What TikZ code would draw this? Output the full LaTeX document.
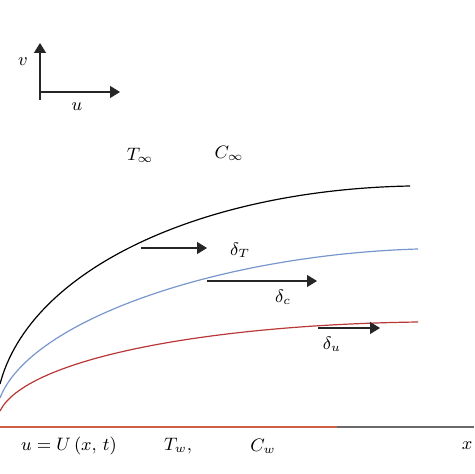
\documentclass[tikz,border=0pt]{standalone}
\usepackage{amsmath}
\usepackage{xcolor}
\usepackage{tikz}
\usetikzlibrary{arrows.meta, positioning}
\definecolor{curveblue}{RGB}{120,150,205}
\definecolor{curvered}{RGB}{185,55,55}
\definecolor{wallred}{RGB}{205,95,70}
\definecolor{wallgray}{RGB}{105,105,105}
\tikzstyle{label} = [inner sep=1pt, text centered, font=\small]
\tikzstyle{arrow} = [line width=0.65pt, color=black!85, -{Triangle[length=5pt, width=6pt]}]
\tikzstyle{layer} = [line width=0.6pt]

\begin{document}
\begin{tikzpicture}[x=0.5pt, y=-0.5pt]
\useasboundingbox (0,0) rectangle (474,474);

% Axes
\coordinate (origin) at (40,92);
\coordinate (vtip) at (40,43);
\coordinate (utip) at (120,92);
\draw [arrow] ([yshift=-4pt]origin) -- (vtip);
\draw [arrow] (origin) -- (utip);
\node (vlab) [label] at (23,62) {$v$};
\node (ulab) [label] at (77,107) {$u$};

% Free stream
\node (tinf) [label] at (140,155) {$T_\infty$};
\node (cinf) [label] at (229,153) {$C_\infty$};

% Boundary layers
\coordinate (bk0) at (0,384);
\coordinate (bk1) at (410,186);
\coordinate (bl0) at (0,398);
\coordinate (bl1) at (418,249);
\coordinate (rd0) at (0,411);
\coordinate (rd1) at (418,322);
\draw [layer, black] (bk0) .. controls (30,270) and (200,190) .. (bk1);
\draw [layer, curveblue] (bl0) .. controls (30,320) and (220,255) .. (bl1);
\draw [layer, curvered] (rd0) .. controls (25,360) and (200,325) .. (rd1);

% Thickness arrows
\coordinate (dta) at (141,248);
\coordinate (dtb) at (207,248);
\coordinate (dca) at (207,281);
\coordinate (dcb) at (317,281);
\coordinate (dua) at (318,328);
\coordinate (dub) at (380,328);
\draw [arrow] (dta) -- (dtb);
\draw [arrow] (dca) -- (dcb);
\draw [arrow] (dua) -- (dub);
\node (dT) [label] at (240,250) {$\delta_T$};
\node (dc) [label] at (283,297) {$\delta_c$};
\node (du) [label] at (332,344) {$\delta_u$};

% Wall
\coordinate (w0) at (0,427);
\coordinate (w1) at (337,427);
\coordinate (w2) at (474,427);
\draw [wallred, line width=1pt] (w0) -- (w1);
\draw [wallgray, line width=1pt] (w1) -- (w2);
\node (ueq) [label] at (69,446) {$u = U\,(x,\,t)$};
\node (tw) [label] at (178,446) {$T_{w},$};
\node (cw) [label] at (263,446) {$C_w$};
\node (xlab) [label] at (467,446) {$x$};

\end{tikzpicture}
\end{document}
